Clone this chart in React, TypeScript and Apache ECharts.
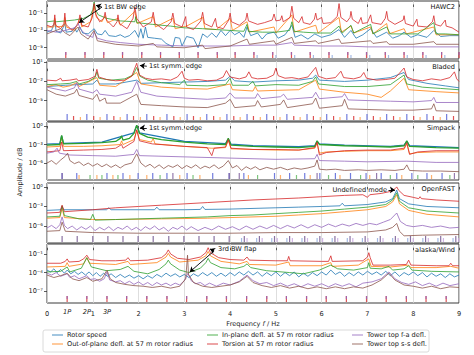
import React, { useEffect, useRef } from 'react';
import * as echarts from 'echarts';

// ---------- names, colours ----------
const SERIES_NAMES = [
  'Rotor speed',
  'Out-of-plane defl. at 57 m rotor radius',
  'In-plane defl. at 57 m rotor radius',
  'Torsion at 57 m rotor radius',
  'Tower top f-a defl.',
  'Tower top s-s defl.',
];
const COLORS = ['#1f77b4', '#ff7f0e', '#2ca02c', '#d62728', '#9467bd', '#8c564b'];
const PANEL_LABELS = ['HAWC2', 'Bladed', 'Simpack', 'OpenFAST', 'alaska/Wind'];
const Y_TICKS = [[-5, -3, -1], [-5, -2, 1], [-6, -3, 0], [-6, -3, 0], [-7, -4, -1]];
const P_TICKS = [0.44, 0.87, 1.31];
const P_LABELS = ['1P', '2P', '3P'];

// ---------- data: [frequency Hz, log10 amplitude] ----------
const HAWC2_ROTOR = [[0,-3.2],[0.1,-3.0],[0.17,-2.0],[0.2,-3.1],[0.3,-3.3],[0.39,-2.2],[0.42,-3.2],[0.55,-3.1],[0.6,-2.7],[0.65,-3.2],[0.72,-2.6],[0.78,-3.3],[0.9,-3.4],[1.03,-2.8],[1.1,-3.4],[1.2,-3.5],[1.27,-3.0],[1.35,-3.6],[1.5,-3.7],[1.6,-3.5],[1.7,-3.8],[1.8,-3.6],[1.92,-3.0],[2.0,-3.8],[2.05,-2.8],[2.1,-3.9],[2.15,-2.6],[2.2,-3.8],[2.35,-3.9],[2.5,-4.0],[2.6,-4.5],[2.75,-4.9],[2.8,-3.8],[2.9,-3.9],[2.95,-4.8],[3.05,-3.7],[3.2,-3.9],[3.3,-5.0],[3.4,-3.4],[3.5,-3.8],[3.6,-3.3],[3.7,-3.8],[3.8,-3.0],[3.9,-3.6],[4.0,-3.0],[4.1,-3.5],[4.2,-3.2],[4.3,-3.8],[4.37,-2.6],[4.45,-3.6],[4.6,-3.3],[4.7,-4.0],[4.8,-3.4],[4.96,-3.2],[5.05,-3.9],[5.2,-3.5],[5.35,-2.4],[5.42,-3.8],[5.55,-3.5],[5.7,-4.0],[5.85,-3.4],[6.0,-3.8],[6.2,-3.5],[6.38,-2.9],[6.5,-3.8],[6.64,-3.0],[6.75,-3.9],[6.9,-3.5],[7.07,-2.8],[7.2,-3.8],[7.42,-3.2],[7.55,-3.9],[7.7,-3.6],[7.8,-3.2],[7.95,-3.8],[8.1,-3.5],[8.3,-3.8],[8.45,-3.0],[8.6,-3.7],[8.8,-3.6],[9,-3.6]];
const HAWC2_OOP = [[0,-2.6],[0.15,-2.6],[0.17,-1.6],[0.2,-2.6],[0.37,-2.5],[0.39,-1.5],[0.42,-2.6],[0.6,-3.0],[0.72,-1.6],[0.76,-2.6],[0.95,-2.0],[1.03,-0.2],[1.08,-1.5],[1.2,-2.0],[1.27,-1.3],[1.32,-2.1],[1.55,-1.6],[1.6,-2.4],[1.92,-0.8],[1.97,-2.2],[2.32,-1.4],[2.37,-2.6],[2.75,-1.6],[2.8,-2.8],[3.05,-2.5],[3.4,-1.5],[3.45,-2.8],[3.7,-2.9],[4.0,-1.6],[4.05,-3.0],[4.37,-2.0],[4.42,-3.2],[4.96,-2.6],[5.0,-3.3],[5.35,-1.2],[5.4,-3.2],[5.87,-2.4],[5.92,-3.3],[6.38,-1.5],[6.43,-3.2],[6.64,-2.5],[6.7,-3.3],[7.07,-2.6],[7.12,-3.4],[7.42,-2.2],[7.47,-3.4],[7.8,-2.8],[7.85,-3.4],[8.45,-2.6],[8.5,-3.5],[9,-3.5]];
const HAWC2_IP = [[0,-2.0],[0.17,-1.9],[0.2,-2.0],[0.4,-1.9],[0.6,-1.8],[0.8,-1.6],[0.95,-1.2],[1.0,-0.6],[1.03,0.3],[1.06,-0.6],[1.12,-1.2],[1.3,-1.6],[1.6,-1.9],[1.92,-2.0],[1.94,-1.4],[1.96,-2.1],[2.3,-2.3],[2.7,-2.5],[3.0,-2.7],[3.4,-2.8],[3.7,-2.9],[4.0,-3.0],[4.3,-3.1],[4.37,-2.3],[4.4,-3.1],[4.7,-3.2],[5.0,-3.2],[5.3,-3.0],[5.35,-2.0],[5.4,-3.1],[5.6,-3.2],[5.9,-3.3],[6.2,-3.3],[6.38,-2.5],[6.45,-3.3],[6.64,-2.4],[6.7,-3.3],[7.07,-2.3],[7.12,-3.4],[7.42,-2.6],[7.5,-3.4],[7.8,-3.4],[8.1,-3.4],[8.45,-2.1],[8.5,-3.4],[8.7,-3.4],[9,-3.5]];
const HAWC2_TOR = [[0,-2.4],[0.1,-2.6],[0.15,-2.3],[0.17,-1.2],[0.19,-2.4],[0.3,-2.8],[0.37,-2.2],[0.39,-1.0],[0.41,-2.3],[0.55,-3.0],[0.68,-2.3],[0.72,-1.2],[0.76,-2.4],[0.9,-2.6],[0.99,-1.5],[1.03,0.1],[1.07,-1.2],[1.15,-2.0],[1.24,-1.6],[1.27,-0.9],[1.3,-1.8],[1.45,-2.6],[1.53,-2.0],[1.55,-1.2],[1.58,-2.2],[1.75,-2.8],[1.88,-1.6],[1.92,-0.3],[1.96,-1.6],[2.1,-2.6],[2.28,-2.0],[2.32,-0.9],[2.36,-2.2],[2.55,-2.9],[2.71,-2.0],[2.75,-1.0],[2.79,-2.2],[2.95,-2.6],[3.03,-1.4],[3.05,-2.6],[3.2,-2.9],[3.36,-1.9],[3.4,-0.9],[3.44,-2.2],[3.6,-2.6],[3.68,-1.6],[3.71,-2.6],[3.85,-2.8],[3.97,-1.8],[4.0,-1.0],[4.03,-2.0],[4.2,-2.4],[4.34,-1.8],[4.37,-1.0],[4.4,-1.9],[4.6,-2.3],[4.75,-2.1],[4.92,-1.8],[4.96,-1.1],[5.0,-1.9],[5.1,-1.8],[5.13,-1.3],[5.16,-2.0],[5.31,-1.5],[5.35,-0.2],[5.39,-1.6],[5.5,-2.1],[5.57,-1.4],[5.6,-2.1],[5.75,-2.3],[5.84,-1.7],[5.87,-1.0],[5.9,-1.8],[6.0,-1.5],[6.03,-2.2],[6.2,-2.1],[6.34,-1.4],[6.38,0.1],[6.42,-1.5],[6.55,-2.0],[6.62,-1.5],[6.64,-0.8],[6.67,-1.7],[6.8,-2.2],[6.86,-1.5],[6.89,-2.2],[7.0,-2.1],[7.07,-1.2],[7.1,-2.1],[7.3,-2.3],[7.39,-1.6],[7.42,-0.8],[7.45,-1.8],[7.6,-2.3],[7.78,-1.8],[7.8,-1.3],[7.83,-2.2],[8.0,-2.5],[8.08,-1.7],[8.1,-2.5],[8.3,-2.6],[8.42,-2.0],[8.45,-1.3],[8.48,-2.3],[8.6,-2.5],[8.7,-1.8],[8.72,-2.5],[8.85,-2.7],[9,-3.2]];
const HAWC2_FA = [[0,-3.0],[0.2,-3.2],[0.4,-3.0],[0.6,-2.7],[0.68,-2.2],[0.74,-2.9],[0.85,-3.5],[1.0,-3.8],[1.03,-3.2],[1.1,-3.9],[1.3,-4.2],[1.6,-4.4],[2.0,-4.6],[2.5,-4.7],[3.0,-4.8],[3.5,-4.8],[4.0,-4.8],[4.5,-4.7],[5.0,-4.7],[5.35,-4.4],[5.4,-4.7],[6.0,-4.8],[6.5,-4.8],[7.0,-4.9],[7.5,-4.9],[8.0,-4.9],[8.5,-4.9],[9,-4.9]];
const HAWC2_SS = [[0,-3.4],[0.2,-3.0],[0.3,-2.8],[0.4,-3.3],[0.5,-3.6],[0.68,-2.6],[0.74,-3.4],[0.9,-4.0],[1.03,-3.0],[1.1,-4.2],[1.5,-4.6],[2.0,-4.8],[2.32,-4.5],[2.4,-4.9],[3.0,-5.0],[3.4,-4.7],[3.45,-5.1],[4.0,-4.8],[4.37,-4.0],[4.42,-4.6],[4.96,-4.2],[5.0,-4.6],[5.35,-3.8],[5.4,-4.5],[5.87,-4.2],[5.92,-4.5],[6.38,-4.0],[6.43,-4.5],[7.07,-4.2],[7.12,-4.5],[7.42,-4.3],[7.47,-4.6],[8.0,-4.6],[8.45,-4.3],[8.5,-4.6],[9,-4.6]];

const BLADED_ROTOR = [[0,-2.8],[0.4,-2.6],[0.7,-2.5],[1.0,-2.4],[1.09,-1.8],[1.15,-2.4],[1.5,-2.4],[1.96,-1.8],[2.05,-2.3],[2.5,-2.2],[3.0,-2.1],[3.5,-2.0],[3.9,-1.8],[4.0,-1.2],[4.1,-1.9],[4.5,-2.1],[5.0,-1.9],[5.5,-1.8],[5.8,-1.5],[5.87,-1.0],[5.95,-1.8],[6.5,-2.0],[7.0,-1.8],[7.5,-1.4],[7.8,-0.6],[7.9,-1.7],[8.3,-2.3],[8.7,-2.7],[9,-3.0]];
const BLADED_OOP = [[0,-2.8],[0.2,-2.5],[0.35,-2.9],[0.5,-2.7],[0.65,-2.2],[0.7,-2.8],[1.09,-1.4],[1.15,-2.6],[1.5,-2.8],[1.96,-0.6],[2.05,-2.4],[2.5,-2.9],[3.0,-3.1],[3.5,-3.2],[4.0,-2.4],[4.05,-3.3],[4.5,-3.5],[4.55,-2.8],[4.6,-3.5],[5.0,-3.4],[5.5,-3.3],[5.87,-1.8],[5.95,-3.2],[6.5,-3.7],[7.0,-4.0],[7.3,-4.5],[7.5,-3.5],[7.8,-1.5],[7.9,-3.3],[8.5,-3.6],[9,-3.8]];
const BLADED_IP = [[0,-2.5],[0.3,-2.4],[0.5,-2.3],[0.65,-2.0],[0.7,-2.4],[0.9,-2.0],[1.05,-1.4],[1.09,-0.5],[1.13,-1.5],[1.4,-1.8],[1.7,-1.6],[1.88,-1.0],[1.96,0.2],[2.03,-1.2],[2.2,-1.8],[2.5,-2.2],[2.9,-2.5],[3.0,-1.8],[3.05,-2.6],[3.5,-2.7],[3.9,-2.5],[4.0,-1.5],[4.05,-2.6],[4.4,-2.6],[4.5,-2.0],[4.55,-2.7],[5.0,-2.5],[5.5,-2.6],[5.8,-2.0],[5.87,-1.3],[5.93,-2.4],[6.5,-2.8],[7.0,-2.8],[7.5,-2.5],[7.8,-1.0],[7.86,-2.4],[8.2,-2.9],[8.6,-3.1],[9,-3.3]];
const BLADED_TOR = [[0,-1.8],[0.2,-1.9],[0.3,-1.5],[0.33,-1.9],[0.5,-1.8],[0.65,-1.6],[0.68,-1.9],[0.9,-1.7],[1.05,-1.2],[1.09,-0.1],[1.13,-1.3],[1.3,-1.7],[1.5,-1.9],[1.7,-1.8],[1.85,-1.2],[1.96,0.85],[2.02,-1.0],[2.15,-1.5],[2.3,-1.7],[2.5,-1.6],[2.7,-1.8],[2.85,-1.3],[2.95,-0.4],[3.0,-1.5],[3.1,-1.8],[3.3,-1.7],[3.5,-1.9],[3.7,-1.8],[3.85,-1.3],[3.92,-0.3],[4.0,-1.3],[4.2,-1.6],[4.35,-1.3],[4.41,-0.5],[4.47,-1.4],[4.6,-1.6],[4.8,-1.5],[4.95,-1.0],[5.0,0.1],[5.05,-1.1],[5.2,-1.5],[5.35,-1.4],[5.5,-1.6],[5.7,-1.3],[5.87,0.2],[5.93,-1.2],[6.1,-1.6],[6.3,-1.4],[6.42,-0.4],[6.48,-1.4],[6.7,-1.6],[6.85,-1.3],[6.92,-0.6],[6.98,-1.5],[7.2,-1.8],[7.4,-1.7],[7.6,-1.5],[7.8,0.1],[7.86,-1.3],[8.0,-1.7],[8.2,-1.9],[8.4,-1.6],[8.6,-1.8],[8.8,-1.4],[8.9,-0.5],[8.95,-1.6],[9,-2.0]];
const BLADED_FA = [[0,-2.9],[0.2,-3.2],[0.4,-3.5],[0.6,-3.0],[0.65,-2.2],[0.7,-3.2],[1.0,-3.8],[1.09,-3.3],[1.15,-4.0],[1.5,-4.3],[1.85,-3.7],[1.96,-2.0],[2.05,-3.7],[2.4,-4.3],[3.0,-4.6],[3.5,-4.8],[3.9,-4.6],[4.0,-3.8],[4.1,-4.6],[4.55,-4.6],[4.6,-3.9],[4.68,-4.7],[5.1,-4.4],[5.17,-4.0],[5.25,-4.8],[5.8,-4.5],[5.87,-3.7],[5.95,-4.7],[6.45,-4.4],[6.5,-3.9],[6.58,-4.9],[7.0,-5.0],[7.5,-5.1],[8.0,-5.2],[8.4,-5.0],[8.45,-4.5],[8.5,-5.3],[9,-5.3]];
const BLADED_SS = [[0,-3.3],[0.2,-4.0],[0.4,-4.3],[0.6,-3.8],[0.65,-3.2],[0.7,-4.2],[1.0,-4.8],[1.09,-4.0],[1.15,-5.1],[1.27,-4.6],[1.3,-5.4],[1.6,-5.4],[1.96,-4.0],[2.05,-5.6],[2.5,-5.8],[3.0,-6.0],[3.5,-6.1],[3.9,-5.4],[4.0,-4.8],[4.1,-6.1],[4.55,-5.8],[4.6,-5.0],[4.68,-6.0],[5.1,-5.6],[5.17,-4.9],[5.25,-6.1],[5.8,-5.5],[5.87,-4.6],[5.95,-6.2],[6.45,-5.8],[6.5,-4.8],[6.58,-6.3],[7.0,-6.4],[7.5,-6.5],[8.0,-6.5],[8.4,-6.3],[8.45,-5.5],[8.5,-6.6],[9,-6.7]];

const SIMPACK_ROTOR = [[0,-2.95],[0.28,-2.85],[0.32,-1.6],[0.36,-2.8],[1.2,-2.6],[1.9,-1.1],[1.96,0.1],[2.02,-1.1],[3.0,-2.5],[3.9,-2.85],[3.96,-2.1],[4.02,-2.95],[4.5,-3.2],[5.5,-3.35],[5.85,-3.2],[5.9,-2.5],[5.95,-2.9],[6.5,-3.1],[7.5,-3.3],[7.8,-3.1],[7.86,-2.5],[7.92,-3.2],[9,-3.5]];
const SIMPACK_OOP = [[0,-3.4],[0.28,-3.3],[0.32,-1.8],[0.36,-3.3],[0.8,-3.3],[1.2,-3.2],[1.6,-3.0],[1.63,-2.4],[1.66,-3.0],[1.9,-2.2],[1.96,-0.7],[2.02,-2.2],[2.28,-2.6],[2.32,-2.0],[2.36,-2.9],[3.0,-3.3],[3.6,-3.6],[3.9,-3.5],[3.96,-2.3],[4.02,-3.7],[4.5,-3.8],[5.0,-3.9],[5.5,-3.9],[5.85,-3.6],[5.9,-2.8],[5.95,-4.4],[6.1,-4.2],[6.5,-4.1],[7.0,-4.0],[7.5,-4.0],[7.8,-3.8],[7.86,-2.9],[7.92,-4.5],[8.1,-4.3],[8.5,-4.2],[9,-4.2]];
const SIMPACK_IP = [[0,-3.1],[0.28,-3.0],[0.32,-1.5],[0.36,-2.9],[0.8,-2.8],[1.2,-2.7],[1.5,-2.5],[1.6,-2.0],[1.63,-1.6],[1.66,-2.3],[1.8,-2.0],[1.9,-1.2],[1.96,0.15],[2.02,-1.2],[2.2,-1.8],[2.5,-2.2],[3.0,-2.6],[3.5,-2.9],[3.9,-3.0],[3.96,-2.0],[4.02,-3.1],[4.5,-3.3],[5.0,-3.4],[5.5,-3.5],[5.85,-3.3],[5.9,-2.4],[5.95,-3.0],[6.5,-3.2],[7.0,-3.3],[7.5,-3.4],[7.8,-3.2],[7.86,-2.4],[7.92,-3.3],[8.5,-3.5],[9,-3.6]];
const SIMPACK_TOR = [[0,-4.2],[0.28,-4.0],[0.32,-2.6],[0.36,-4.0],[0.8,-3.9],[1.2,-3.8],[1.5,-3.6],[1.63,-3.0],[1.66,-3.6],[1.9,-2.5],[1.96,-0.6],[2.02,-2.4],[2.3,-2.9],[3.0,-3.3],[3.5,-3.5],[3.6,-4.8],[3.65,-3.6],[3.9,-3.4],[3.96,-2.2],[4.02,-3.6],[4.5,-3.8],[5.0,-3.8],[5.5,-3.9],[5.85,-3.5],[5.9,-2.6],[5.95,-4.7],[6.1,-4.3],[6.5,-4.0],[7.0,-3.9],[7.5,-3.9],[7.8,-3.6],[7.86,-2.7],[7.92,-4.6],[8.1,-4.2],[8.5,-4.0],[9,-4.0]];
const SIMPACK_FA = [[0,-4.4],[0.15,-4.2],[0.22,-3.6],[0.27,-4.4],[0.5,-4.7],[1.0,-4.8],[1.5,-4.9],[1.9,-4.6],[1.96,-3.8],[2.02,-4.8],[3.0,-5.0],[4.0,-5.2],[5.0,-5.4],[5.85,-5.3],[5.9,-4.6],[5.95,-5.6],[6.5,-5.7],[7.0,-5.8],[7.86,-5.7],[8.5,-5.9],[9,-5.9]];
const SIMPACK_SS = [[0,-6.0],[0.1,-5.6],[0.2,-6.2],[0.3,-5.5],[0.4,-4.9],[0.45,-4.4],[0.5,-5.6],[0.6,-6.1],[0.7,-5.8],[0.8,-6.4],[0.9,-6.0],[1.0,-6.5],[1.1,-6.1],[1.2,-6.6],[1.3,-6.2],[1.4,-6.7],[1.5,-6.3],[1.6,-6.8],[1.7,-6.3],[1.85,-6.0],[1.96,-4.5],[2.05,-6.0],[2.15,-6.6],[2.25,-6.2],[2.35,-6.8],[2.45,-6.3],[2.55,-6.9],[2.65,-6.4],[2.75,-6.7],[2.85,-6.3],[2.95,-6.9],[3.05,-6.4],[3.15,-6.8],[3.25,-6.3],[3.35,-6.9],[3.45,-6.5],[3.55,-6.8],[3.65,-6.3],[3.75,-6.9],[3.85,-6.5],[3.96,-5.6],[4.05,-6.8],[4.15,-6.4],[4.25,-7.2],[4.35,-6.6],[4.45,-7.0],[4.55,-6.6],[4.65,-7.1],[4.8,-6.7],[4.95,-7.0],[5.1,-6.7],[5.25,-7.1],[5.4,-6.8],[5.55,-7.0],[5.7,-6.8],[5.85,-6.5],[5.9,-5.5],[5.95,-7.0],[6.1,-7.1],[6.3,-7.0],[6.5,-7.2],[6.8,-7.1],[7.0,-7.2],[7.3,-7.1],[7.6,-7.2],[7.8,-7.0],[7.86,-6.3],[7.92,-7.2],[8.2,-7.3],[8.6,-7.3],[9,-7.4]];

const OPENFAST_ROTOR = [[0,-3.6],[0.3,-3.5],[0.33,-3.0],[0.36,-3.5],[1.0,-3.5],[1.3,-3.5],[1.35,-3.2],[1.4,-3.5],[2.0,-3.5],[2.35,-3.5],[2.4,-3.1],[2.45,-3.5],[3.0,-3.5],[3.35,-3.45],[3.4,-3.0],[3.45,-3.45],[4.0,-3.4],[4.5,-3.3],[5.0,-3.2],[5.5,-3.1],[6.0,-3.0],[6.4,-2.9],[6.45,-2.5],[6.5,-2.9],[7.0,-2.7],[7.4,-2.3],[7.55,-1.8],[7.64,-0.5],[7.7,-1.8],[7.9,-2.6],[8.3,-3.0],[9,-3.2]];
const OPENFAST_OOP = [[0,-4.8],[0.28,-4.7],[0.33,-3.3],[0.38,-4.7],[1.0,-5.0],[1.5,-5.0],[2.0,-4.95],[2.5,-4.9],[3.0,-4.85],[3.5,-4.8],[4.0,-4.7],[4.5,-4.6],[5.0,-4.5],[5.5,-4.3],[6.0,-4.1],[6.5,-3.8],[7.0,-3.5],[7.4,-3.0],[7.55,-2.3],[7.64,-1.2],[7.7,-2.6],[7.9,-3.6],[8.3,-4.2],[9,-4.6]];
const OPENFAST_IP = [[0,-4.6],[0.28,-4.5],[0.33,-2.9],[0.38,-4.4],[0.7,-4.9],[0.95,-5.0],[1.0,-4.2],[1.05,-5.1],[1.5,-5.0],[2.0,-4.9],[2.5,-4.8],[3.0,-4.7],[3.5,-4.6],[4.0,-4.4],[4.5,-4.3],[5.0,-4.1],[5.5,-3.9],[6.0,-3.7],[6.5,-3.4],[7.0,-3.1],[7.4,-2.7],[7.55,-2.0],[7.64,-0.9],[7.7,-2.2],[7.9,-3.2],[8.3,-3.7],[9,-4.0]];
const OPENFAST_TOR = [[0,-4.0],[0.28,-3.9],[0.33,-2.8],[0.38,-3.8],[1.0,-3.5],[1.5,-3.2],[2.0,-3.0],[2.5,-2.8],[3.0,-2.6],[3.5,-2.4],[4.0,-2.2],[4.5,-2.0],[5.0,-1.85],[5.5,-1.7],[6.0,-1.5],[6.5,-1.3],[6.9,-1.2],[7.0,-1.6],[7.05,-1.2],[7.3,-1.0],[7.5,-0.7],[7.6,-0.3],[7.64,0.0],[7.68,-0.5],[7.8,-1.3],[8.0,-1.6],[8.12,-1.8],[8.15,-1.5],[8.18,-1.8],[8.5,-2.0],[9,-2.2]];
const OPENFAST_FA = [[0,-6.3],[0.1,-5.9],[0.2,-6.4],[0.28,-5.8],[0.33,-4.6],[0.38,-5.9],[0.45,-6.4],[0.55,-6.0],[0.65,-6.6],[0.75,-6.1],[0.85,-6.5],[0.95,-6.0],[1.05,-6.7],[1.15,-6.2],[1.25,-6.6],[1.35,-6.1],[1.45,-6.7],[1.55,-6.2],[1.65,-6.5],[1.75,-6.0],[1.85,-6.6],[1.95,-6.2],[2.05,-6.7],[2.15,-6.1],[2.25,-6.5],[2.35,-6.0],[2.45,-6.6],[2.55,-6.2],[2.65,-6.8],[2.75,-6.2],[2.85,-6.5],[2.95,-6.0],[3.05,-6.6],[3.15,-6.1],[3.3,-6.7],[3.45,-6.2],[3.6,-6.6],[3.75,-6.0],[3.9,-6.5],[4.05,-6.1],[4.2,-6.6],[4.35,-6.0],[4.5,-6.5],[4.65,-6.0],[4.8,-6.4],[4.95,-5.9],[5.1,-6.4],[5.25,-5.9],[5.4,-6.3],[5.55,-5.8],[5.7,-6.3],[5.85,-5.8],[6.0,-6.2],[6.15,-5.7],[6.3,-6.1],[6.45,-5.7],[6.6,-6.0],[6.75,-5.6],[6.9,-5.9],[7.05,-5.6],[7.2,-5.8],[7.35,-5.4],[7.5,-5.0],[7.64,-4.0],[7.72,-5.3],[7.85,-5.9],[8.0,-6.1],[8.2,-5.9],[8.4,-6.2],[8.6,-6.0],[8.8,-6.3],[9,-6.2]];
const OPENFAST_SS = [[0,-6.8],[0.28,-6.7],[0.33,-5.4],[0.4,-6.8],[1.0,-7.0],[2.0,-7.1],[3.0,-7.1],[4.0,-7.1],[5.0,-7.0],[6.0,-7.0],[7.0,-6.9],[7.4,-6.6],[7.55,-6.2],[7.64,-5.6],[7.7,-6.8],[7.8,-7.5],[8.2,-7.4],[9,-7.3]];

const ALASKA_ROTOR = [[0,-3.6],[0.08,-3.9],[0.15,-3.4],[0.22,-4.0],[0.3,-3.5],[0.38,-4.1],[0.44,-3.6],[0.52,-4.2],[0.6,-3.8],[0.68,-4.3],[0.76,-3.9],[0.84,-4.4],[0.92,-3.9],[1.0,-4.5],[1.08,-4.0],[1.16,-4.6],[1.24,-4.1],[1.32,-4.6],[1.4,-4.2],[1.5,-4.8],[1.6,-4.3],[1.7,-4.8],[1.8,-4.4],[1.9,-4.9],[2.0,-4.5],[2.1,-5.0],[2.2,-4.5],[2.3,-4.9],[2.4,-4.3],[2.5,-4.7],[2.6,-4.1],[2.7,-4.6],[2.8,-4.2],[2.9,-4.7],[3.0,-4.3],[3.1,-4.8],[3.2,-4.2],[3.3,-4.6],[3.4,-4.0],[3.5,-4.5],[3.6,-4.0],[3.7,-4.6],[3.8,-4.1],[3.9,-4.6],[4.0,-4.0],[4.1,-4.5],[4.2,-3.9],[4.3,-4.4],[4.4,-3.8],[4.5,-4.4],[4.6,-3.9],[4.7,-4.6],[4.8,-4.0],[4.9,-4.5],[5.0,-3.9],[5.1,-4.6],[5.2,-4.0],[5.3,-4.5],[5.4,-3.9],[5.5,-4.7],[5.6,-4.1],[5.7,-4.6],[5.8,-4.0],[5.9,-4.5],[6.0,-3.9],[6.1,-4.4],[6.2,-3.6],[6.3,-4.3],[6.4,-3.9],[6.5,-4.6],[6.6,-4.0],[6.7,-4.5],[6.8,-3.9],[6.9,-4.4],[7.0,-3.8],[7.1,-4.3],[7.2,-3.9],[7.3,-4.4],[7.4,-3.8],[7.5,-4.5],[7.6,-3.9],[7.7,-4.6],[7.8,-4.0],[7.9,-4.4],[8.0,-3.9],[8.1,-4.5],[8.2,-4.0],[8.3,-4.7],[8.4,-4.1],[8.5,-4.6],[8.6,-4.2],[8.7,-4.8],[8.8,-4.2],[8.9,-4.7],[9,-4.4]];
const ALASKA_OOP = [[0,-3.1],[0.4,-3.0],[0.44,-2.4],[0.48,-3.0],[0.8,-2.6],[0.87,-1.6],[0.93,-2.5],[1.5,-2.7],[1.77,-2.2],[1.82,-2.7],[2.4,-2.4],[2.6,-1.5],[2.65,-0.9],[2.7,-1.5],[2.9,-2.3],[3.3,-2.0],[3.47,-1.3],[3.52,-0.6],[3.57,-1.3],[3.8,-2.2],[4.2,-2.6],[4.37,-2.2],[4.42,-2.7],[5.0,-2.8],[5.28,-2.3],[5.31,-2.9],[6.0,-2.9],[6.2,-2.4],[6.23,-3.0],[6.8,-2.8],[7.03,-1.8],[7.08,-3.0],[7.5,-3.1],[7.9,-2.8],[7.95,-3.2],[8.5,-3.2],[8.82,-3.0],[9,-3.3]];
const ALASKA_IP = [[0,-3.9],[0.3,-3.8],[0.44,-3.1],[0.5,-3.9],[0.75,-3.3],[0.87,-1.6],[0.97,-3.1],[1.3,-3.7],[1.6,-3.5],[1.77,-3.0],[1.9,-3.8],[2.2,-4.2],[2.45,-3.5],[2.6,-2.6],[2.65,-2.0],[2.7,-2.6],[2.9,-3.6],[3.1,-4.0],[3.35,-3.3],[3.47,-2.4],[3.52,-1.7],[3.57,-2.4],[3.8,-3.2],[4.1,-3.4],[4.3,-3.0],[4.37,-2.6],[4.45,-3.2],[4.8,-3.7],[5.3,-4.0],[5.6,-4.2],[5.95,-3.6],[6.2,-2.8],[6.35,-3.4],[6.7,-3.6],[7.0,-3.2],[7.03,-2.4],[7.06,-3.3],[7.3,-3.4],[7.47,-3.0],[7.55,-3.6],[7.8,-3.4],[7.9,-2.9],[7.97,-3.6],[8.4,-3.8],[9,-3.9]];
const ALASKA_TOR = [[0,-2.5],[0.3,-2.5],[0.4,-2.2],[0.44,-1.8],[0.48,-2.3],[0.7,-2.2],[0.8,-1.8],[0.87,-1.2],[0.93,-1.9],[1.2,-2.1],[1.5,-2.1],[1.72,-2.0],[1.77,-1.6],[1.82,-2.1],[2.2,-2.0],[2.5,-1.6],[2.6,-1.0],[2.65,-0.35],[2.7,-1.0],[2.85,-1.7],[3.1,-1.9],[3.35,-1.5],[3.47,-0.8],[3.52,0.0],[3.57,-0.8],[3.75,-1.6],[4.0,-1.9],[4.3,-2.0],[4.37,-1.5],[4.42,-2.0],[5.0,-2.1],[5.25,-2.1],[5.28,-1.4],[5.31,-2.1],[6.0,-2.2],[6.15,-2.2],[6.2,-1.3],[6.23,-2.2],[6.9,-2.1],[7.0,-1.5],[7.03,-0.8],[7.06,-1.6],[7.12,-2.8],[7.5,-2.8],[7.85,-2.7],[7.9,-2.0],[7.95,-2.8],[8.5,-2.9],[8.78,-2.9],[8.82,-2.5],[8.86,-2.9],[9,-2.9]];
const ALASKA_FA = [[0,-4.1],[0.1,-4.4],[0.2,-4.0],[0.3,-4.6],[0.44,-4.2],[0.5,-4.8],[0.6,-4.5],[0.7,-5.0],[0.87,-4.5],[0.95,-5.1],[1.05,-5.0],[1.15,-5.4],[1.25,-5.0],[1.31,-3.9],[1.37,-5.2],[1.5,-5.5],[1.6,-5.3],[1.7,-5.8],[1.8,-5.4],[1.9,-5.9],[2.0,-5.5],[2.1,-6.0],[2.2,-5.6],[2.3,-6.1],[2.4,-5.6],[2.5,-6.0],[2.6,-5.7],[2.7,-6.1],[2.8,-5.7],[2.9,-6.0],[3.0,-5.3],[3.08,-4.1],[3.15,-5.3],[3.25,-5.8],[3.35,-5.6],[3.45,-6.1],[3.55,-5.7],[3.7,-6.2],[3.85,-5.7],[4.0,-6.0],[4.2,-5.4],[4.37,-4.4],[4.5,-5.3],[4.65,-5.8],[4.8,-5.6],[4.95,-6.1],[5.1,-5.7],[5.25,-6.2],[5.4,-5.8],[5.55,-6.3],[5.7,-5.8],[5.85,-6.2],[6.0,-5.8],[6.15,-6.3],[6.3,-5.8],[6.45,-6.2],[6.6,-5.8],[6.75,-6.3],[6.9,-5.7],[7.1,-5.5],[7.3,-5.0],[7.47,-3.9],[7.6,-5.0],[7.75,-5.6],[7.9,-5.9],[8.05,-5.5],[8.2,-6.1],[8.35,-5.7],[8.5,-6.2],[8.65,-5.7],[8.8,-6.1],[9,-5.8]];
const ALASKA_SS = [[0,-4.4],[0.15,-4.8],[0.3,-4.5],[0.44,-4.1],[0.55,-5.0],[0.7,-5.3],[0.87,-4.8],[1.0,-5.4],[1.2,-5.0],[1.31,-3.6],[1.38,-5.0],[1.5,-5.6],[1.7,-5.9],[1.9,-6.1],[2.1,-6.2],[2.3,-6.4],[2.5,-6.2],[2.7,-6.5],[2.9,-6.2],[3.03,-5.0],[3.07,-1.2],[3.09,-4.3],[3.2,-5.6],[3.4,-6.2],[3.6,-6.4],[3.8,-6.2],[4.0,-6.0],[4.2,-5.5],[4.37,-4.6],[4.5,-5.6],[4.7,-6.1],[4.9,-6.4],[5.1,-6.1],[5.3,-6.5],[5.5,-6.2],[5.7,-6.6],[5.9,-6.3],[6.1,-6.6],[6.3,-6.3],[6.5,-6.6],[6.7,-6.3],[6.9,-6.5],[7.1,-6.0],[7.3,-5.2],[7.47,-4.1],[7.6,-5.2],[7.8,-6.0],[8.0,-6.2],[8.2,-6.5],[8.4,-6.2],[8.6,-6.6],[8.8,-6.3],[9,-6.4]];

// ---------- vertical frequency markers (Hz) ----------
const HAWC2_MARKS = [0.41,0.83,1.24,1.65,2.07,2.48,2.89,3.3,3.72,4.11,4.52,4.93,5.34,5.75,6.16,6.57,6.98,7.39,7.8,8.21,8.62,9.0];
const HAWC2_MARKS_B = [4.59,5.0,5.41,5.82,6.23,6.64,7.05,7.46,7.87,8.28,8.69];
const BLADED_MARKS_BLUE = [0.44,0.87,1.31,1.75,2.18,2.62,3.06,3.49,3.93,4.37,4.8,5.24,5.68,6.11,6.55,6.99,7.42,7.86,8.3,8.73];
const BLADED_MARKS_RED = [0.58,1.02,1.46,1.89,2.33,2.77,3.2,3.64,4.08,4.51,4.95,5.39,5.82,6.26,6.7,7.13,7.57,8.01,8.44,8.88];
const BLADED_MARKS_ORANGE = [0.73,1.16,1.6,2.04,2.47,2.91,3.35,3.78,4.22,4.66,5.09,5.53,5.97,6.4,6.84,7.28,7.71,8.15,8.59];
const SIMPACK_MARKS_BLUE = [0.33,0.65,1.31,1.66,1.99,2.31,2.62,3.06,3.62,3.98,4.3,4.97,5.3,5.63,5.96,6.3,6.63,6.97,7.3,7.64,7.97,8.3,8.63];
const SIMPACK_MARKS_ORANGE = [0.7,1.09,1.44,1.81,2.18,2.9,3.34,4.4,5.1,5.75,6.4,7.05,7.75,8.4];
const SIMPACK_MARKS_GREEN = [0.94,1.2,1.55,2.47,3.19,4.6,5.45,6.15,6.85,7.5,8.1,8.8];
const SIMPACK_MARKS_PURPLE = [0.33,2.75,3.98,4.2,5.9,7.2,8.9];
const OPENFAST_MARKS = [0.33,0.66,1.0,1.33,1.66,1.99,2.32,2.66,2.99,3.32,3.65,3.98,4.31,4.64,4.97,5.3,5.63,5.96,6.29,6.62,6.95,7.28,7.61,7.94,8.27,8.6,8.93];
const OPENFAST_MARKS_L = [4.25,4.58,4.91,5.24,5.57,5.9,6.23,6.56,6.89,7.22,7.55,7.88,8.21,8.54,8.87];
const OPENFAST_MARKS_R = [4.37,4.7,5.03,5.36,5.69,6.02,6.35,6.68,7.01,7.34,7.67,8.0,8.33,8.66,8.99];
const ALASKA_MARKS = [0.44,0.87,1.31,1.74,2.18,2.62,3.05,3.49,3.92,4.36,4.8,5.23,5.67,6.1,6.54,6.98,7.41,7.85,8.28,8.72];

// ---------- layout (pixels) ----------
const LAYOUT = [
  { top: 1, height: 58, min: -6.3, max: 0.4 },
  { top: 61, height: 60, min: -8.2, max: 1.2 },
  { top: 122, height: 58, min: -8.75, max: 0.65 },
  { top: 183, height: 60, min: -8.6, max: 0.6 },
  { top: 244, height: 59, min: -8.9, max: 0.6 },
];
const PLOT_LEFT = 47;
const PLOT_RIGHT = 15;

const PANEL_SERIES = [
  [HAWC2_ROTOR, HAWC2_OOP, HAWC2_IP, HAWC2_TOR, HAWC2_FA, HAWC2_SS],
  [BLADED_ROTOR, BLADED_OOP, BLADED_IP, BLADED_TOR, BLADED_FA, BLADED_SS],
  [SIMPACK_ROTOR, SIMPACK_OOP, SIMPACK_IP, SIMPACK_TOR, SIMPACK_FA, SIMPACK_SS],
  [OPENFAST_ROTOR, OPENFAST_OOP, OPENFAST_IP, OPENFAST_TOR, OPENFAST_FA, OPENFAST_SS],
  [ALASKA_ROTOR, ALASKA_OOP, ALASKA_IP, ALASKA_TOR, ALASKA_FA, ALASKA_SS],
];

const MARK_SETS = [
  [
    { t: HAWC2_MARKS, c: '#d62728', h: 6, up: false },
    { t: HAWC2_MARKS, c: '#9467bd', h: 3, up: true },
    { t: HAWC2_MARKS_B, c: '#8da9dd', h: 3, up: false },
  ],
  [
    { t: BLADED_MARKS_BLUE, c: '#4f5bd5', h: 6, up: false },
    { t: BLADED_MARKS_RED, c: '#d62728', h: 4, up: false },
    { t: BLADED_MARKS_ORANGE, c: '#ff9f4a', h: 3, up: false },
  ],
  [
    { t: SIMPACK_MARKS_BLUE, c: '#4f5bd5', h: 6, up: false },
    { t: SIMPACK_MARKS_ORANGE, c: '#ff9f4a', h: 4, up: false },
    { t: SIMPACK_MARKS_GREEN, c: '#5cb85c', h: 4, up: false },
    { t: SIMPACK_MARKS_PURPLE, c: '#7a5a9a', h: 6, up: false },
  ],
  [
    { t: OPENFAST_MARKS, c: '#6b4e8a', h: 6, up: false },
    { t: OPENFAST_MARKS_L, c: '#8da9dd', h: 4, up: false },
    { t: OPENFAST_MARKS_R, c: '#c7a3e0', h: 4, up: false },
  ],
  [
    { t: ALASKA_MARKS, c: '#d62728', h: 6, up: false },
    { t: ALASKA_MARKS, c: '#9467bd', h: 3, up: true },
  ],
];

// annotation arrows in data units [freq, log10 amplitude]
const ANNOTATIONS = [
  { panel: 0, text: '1st BW edge', x: 104, y: 7, align: 'left', arrows: [[[1.2, -0.31], [1.07, -0.1]], [[1.2, -0.31], [0.7, -2.1]]] },
  { panel: 1, text: '1st symm. edge', x: 149, y: 66, align: 'left', arrows: [[[2.18, 0.38], [2.03, 0.5]]] },
  { panel: 2, text: '1st symm. edge', x: 149, y: 127.5, align: 'left', arrows: [[[2.18, -0.3], [2.03, -0.3]]] },
  { panel: 3, text: 'Undefined mode', x: 387, y: 190, align: 'right', arrows: [[[7.46, -0.46], [7.6, -0.46]]] },
  { panel: 4, text: '3rd BW flap', x: 218, y: 249, align: 'left', arrows: [[[3.65, -0.5], [3.56, -0.2]], [[3.65, -0.5], [3.12, -3.9]]] },
];

const FONT = 'DejaVu Sans';
const FS = 6.6;
const SUP: Record<string, string> = { '-': '\u207B', '0': '\u2070', '1': '\u00B9', '2': '\u00B2', '3': '\u00B3', '4': '\u2074', '5': '\u2075', '6': '\u2076', '7': '\u2077', '8': '\u2078', '9': '\u2079' };
const pow10 = (v: number) => '10' + String(Math.round(v)).split('').map((c) => SUP[c] || c).join('');

function buildOption() {
  const grid: any[] = [];
  const xAxis: any[] = [];
  const yAxis: any[] = [];
  const series: any[] = [];
  const graphic: any[] = [];

  LAYOUT.forEach((L, i) => {
    grid.push({ left: PLOT_LEFT, right: PLOT_RIGHT, top: L.top, height: L.height, show: true, borderColor: '#3a3a3a', borderWidth: 1, backgroundColor: 'transparent', containLabel: false });
    xAxis.push({
      gridIndex: i, type: 'value', min: 0, max: 9, interval: 1, position: 'bottom',
      axisLine: { show: false },
      axisTick: { show: true, length: 2.5, lineStyle: { color: '#333', width: 0.8 } },
      axisLabel: { show: i === 4, fontSize: FS, color: '#222', fontFamily: FONT, margin: 7 },
      splitLine: { show: true, lineStyle: { color: '#d6d6d6', width: 0.8 } },
      name: i === 4 ? '{n|Frequency }{i|f}{n| / Hz}' : '',
      nameLocation: 'middle', nameGap: 17,
      nameTextStyle: { rich: { n: { fontSize: FS, fontFamily: FONT, color: '#222' }, i: { fontSize: FS, fontFamily: FONT, color: '#222', fontStyle: 'italic' } } },
    });
    yAxis.push({
      gridIndex: i, type: 'value', min: L.min, max: L.max,
      axisLine: { show: false },
      axisTick: { show: true, customValues: Y_TICKS[i], length: 3, lineStyle: { color: '#333', width: 0.8 } },
      axisLabel: { customValues: Y_TICKS[i], formatter: (v: number) => pow10(v), fontSize: FS, color: '#222', fontFamily: FONT, margin: 4 },
      splitLine: { show: false },
    });

    PANEL_SERIES[i].forEach((data, k) => {
      series.push({
        name: SERIES_NAMES[k], type: 'line', xAxisIndex: i, yAxisIndex: i,
        data, showSymbol: false, symbol: 'none', silent: true,
        lineStyle: { color: COLORS[k], width: i === 2 && (k === 0 || k === 2) ? 1.3 : 0.8 },
        itemStyle: { color: COLORS[k] },
        markLine: k === 5 ? {
          silent: true, symbol: ['none', 'arrow'], symbolSize: 5, animation: false,
          lineStyle: { color: '#000', width: 0.9, type: 'solid' },
          label: { show: false },
          data: ANNOTATIONS.filter((a) => a.panel === i).flatMap((a) => a.arrows.map((ar) => [{ coord: ar[0] }, { coord: ar[1] }])),
        } : undefined,
      });
    });

    const ppd = L.height / (L.max - L.min);
    const yc = L.min + 4 / ppd;
    MARK_SETS[i].forEach((m) => {
      series.push({
        name: 'marks-' + i, type: 'scatter', xAxisIndex: i, yAxisIndex: i, silent: true,
        symbol: 'rect', symbolSize: [1.2, m.h], symbolOffset: [0, m.up ? -(6 - m.h) / 2 : (6 - m.h) / 2],
        itemStyle: { color: m.c },
        data: m.t.map((f) => [f, yc]),
        z: 3,
      });
    });

    graphic.push({
      type: 'text', right: PLOT_RIGHT + 4, top: L.top + 2,
      style: { text: PANEL_LABELS[i], fontSize: FS, fontFamily: FONT, fill: '#111' },
    });
  });

  // extra axis for the 1P/2P/3P labels, below the last panel
  xAxis.push({
    gridIndex: 4, type: 'value', min: 0, max: 9, position: 'bottom', offset: 0,
    axisLine: { show: false }, axisTick: { show: false }, splitLine: { show: false },
    axisLabel: {
      customValues: P_TICKS, margin: 5, fontSize: FS, fontStyle: 'italic', color: '#222', fontFamily: FONT,
      formatter: (v: number) => { const j = P_TICKS.findIndex((p) => Math.abs(p - v) < 1e-6); return j >= 0 ? P_LABELS[j] : ''; },
    },
  });

  ANNOTATIONS.forEach((a) => {
    graphic.push({
      type: 'text', x: a.x, y: a.y,
      style: { text: a.text, fontSize: FS, fontFamily: FONT, fill: '#111', align: a.align, verticalAlign: 'middle' },
      z: 10,
    });
  });

  graphic.push({
    type: 'text', x: 20, y: 172, rotation: Math.PI / 2,
    style: { text: 'Amplitude / dB', fontSize: FS, fontFamily: FONT, fill: '#222', align: 'center', verticalAlign: 'middle' },
  });
  graphic.push({
    type: 'rect', shape: { x: 43, y: 330, width: 386, height: 22, r: 2 },
    style: { fill: '#fff', stroke: '#d0d0d0', lineWidth: 0.8 }, z: 1,
  });

  const legendBase = {
    orient: 'vertical', top: 331.5, padding: 0, itemWidth: 11, itemHeight: 1.5, itemGap: 2,
    icon: 'rect', selectedMode: false,
    textStyle: { fontSize: FS, fontFamily: FONT, color: '#222', padding: [0, 0, 0, -1] },
    itemStyle: { opacity: 0.55 },
    z: 5,
  };
  const legend = [
    { ...legendBase, left: 52, data: [SERIES_NAMES[0], SERIES_NAMES[1]] },
    { ...legendBase, left: 207, data: [SERIES_NAMES[2], SERIES_NAMES[3]] },
    { ...legendBase, left: 352, data: [SERIES_NAMES[4], SERIES_NAMES[5]] },
  ];

  return {
    animation: false,
    backgroundColor: '#fff',
    textStyle: { fontFamily: FONT },
    grid, xAxis, yAxis, series, graphic, legend,
  };
}

export default function App() {
  const ref = useRef<HTMLDivElement>(null);
  useEffect(() => {
    if (!ref.current) return;
    const chart = echarts.init(ref.current, undefined, { renderer: 'svg' });
    chart.setOption(buildOption() as any);
    return () => chart.dispose();
  }, []);
  return <div ref={ref} style={{ position: 'fixed', left: 0, top: 0, width: 474, height: 355 }} />;
}
